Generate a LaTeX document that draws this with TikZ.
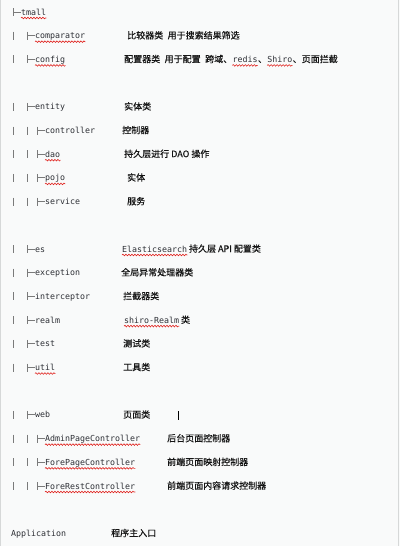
\documentclass[tikz,border=0pt]{standalone}
\usepackage{fontspec}
\setmonofont{DejaVu Sans Mono}
\newfontfamily\cjk{Noto Sans CJK SC}[FakeBold=0.4]
\usetikzlibrary{decorations.pathmorphing}
\definecolor{bgc}{HTML}{F9FAFA}
\definecolor{edgec}{HTML}{D6D8D8}
\definecolor{treec}{HTML}{7A7A7A}
\definecolor{namec}{HTML}{2E3036}
\definecolor{descc}{HTML}{141414}
\definecolor{wavec}{HTML}{E0201C}
\newcommand\mytee[2]{\draw[treeline] (#1,#2-4) -- (#1,#2+4) (#1,#2) -- (#1+8,#2);}
\newcommand\mybar[2]{\draw[treeline] (#1,#2-4) -- (#1,#2+4);}
\begin{document}
\begin{tikzpicture}[x=1pt,y=-1pt,
  treeline/.style={draw=treec,line width=0.9pt},
  lbl/.style={anchor=base west,inner sep=0pt,text=namec,font=\ttfamily\fontsize{8.3}{10}\selectfont},
  dsc/.style={anchor=base west,inner sep=0pt,text=descc,font=\cjk\fontsize{9}{11}\selectfont},
  wavy/.style={draw=wavec,line width=0.6pt,decorate,decoration={snake,segment length=3pt,amplitude=0.8pt}}]
\fill[bgc] (0,0) rectangle (400,546);
\useasboundingbox (0,0) rectangle (400,546);
\draw[edgec,line width=0.8pt] (0.5,0) -- (0.5,546);
\draw[edgec,line width=0.8pt] (398.8,0) -- (398.8,546);
% tree glyphs
\mytee{13}{12}
\foreach \y in {35.7,59.4,106.8,249.0,272.7,296.4,320.1,343.8,367.5,414.9}{\mybar{13}{\y}\mytee{27}{\y}}
\foreach \y in {130.5,154.2,177.9,201.6,438.6,462.3,486.0}{\mybar{13}{\y}\mybar{27}{\y}\mytee{37}{\y}}
% names
\node[lbl] (tmall) at (21,15.0) {tmall};
\node[lbl] (comparator) at (35,38.7) {comparator};
\node[lbl] (config) at (35,62.4) {config};
\node[lbl] (entity) at (35,109.8) {entity};
\node[lbl] (controller) at (45,133.5) {controller};
\node[lbl] (dao) at (45,157.2) {dao};
\node[lbl] (pojo) at (45,180.9) {pojo};
\node[lbl] (service) at (45,204.6) {service};
\node[lbl] (es) at (35,252.0) {es};
\node[lbl] (exception) at (35,275.7) {exception};
\node[lbl] (interceptor) at (35,299.4) {interceptor};
\node[lbl] (realm) at (35,323.1) {realm};
\node[lbl] (test) at (35,346.8) {test};
\node[lbl] (util) at (35,370.5) {util};
\node[lbl] (web) at (35,417.9) {web};
\node[lbl] (admin) at (45,441.6) {AdminPageController};
\node[lbl] (forepage) at (45,465.3) {ForePageController};
\node[lbl] (forerest) at (45,489.0) {ForeRestController};
\node[lbl] (app) at (11,536.4) {Application};
% descriptions
\node[dsc] (dcomparator) at (127,38.7) {比较器类\hspace{4.5pt}用于搜索结果筛选};
\node[dsc] (dconfig1) at (124,62.4) {配置器类\hspace{4.5pt}用于配置\hspace{4.5pt}跨域、\hspace{5pt}};
\node[lbl] (redis) at (dconfig1.base east) {redis};
\node[dsc] (dconfig2) at (redis.base east) {、};
\node[lbl] (shiro) at (dconfig2.base east) {Shiro};
\node[dsc] (dconfig3) at (shiro.base east) {、页面拦截};
\node[dsc] (dentity) at (124,109.8) {实体类};
\node[dsc] (dcontroller) at (122,133.5) {控制器};
\node[dsc] (ddao) at (124,157.2) {持久层进行 DAO 操作};
\node[dsc] (dpojo) at (127,180.9) {实体};
\node[dsc] (dservice) at (127,204.6) {服务};
\node[lbl] (elastic) at (122,252.0) {Elasticsearch};
\node[dsc] (des) at ([xshift=1.5pt]elastic.base east) {持久层 API 配置类};
\node[dsc] (dexception) at (121,275.7) {全局异常处理器类};
\node[dsc] (dinterceptor) at (123,299.4) {拦截器类};
\node[lbl] (shirorealm) at (124,323.1) {shiro-Realm};
\node[dsc] (drealm) at ([xshift=1.5pt]shirorealm.base east) {类};
\node[dsc] (dtest) at (123,346.8) {测试类};
\node[dsc] (dutil) at (123,370.5) {工具类};
\node[dsc] (dweb) at (123,417.9) {页面类};
\node[dsc] (dadmin) at (167,441.6) {后台页面控制器};
\node[dsc] (dforepage) at (167,465.3) {前端页面映射控制器};
\node[dsc] (dforerest) at (167,489.0) {前端页面内容请求控制器};
\node[dsc] (dapp) at (111,536.4) {程序主入口};
% text cursor
\fill[black] (177.6,411) rectangle (179.1,420);
% spell-check underlines
\foreach \n in {tmall,comparator,config,dao,pojo,util,redis,shiro,elastic,shirorealm,admin,forepage,forerest}{
  \draw[wavy] ([yshift=-3pt]\n.base west) -- ([yshift=-3pt]\n.base east);
}
\end{tikzpicture}
\end{document}
